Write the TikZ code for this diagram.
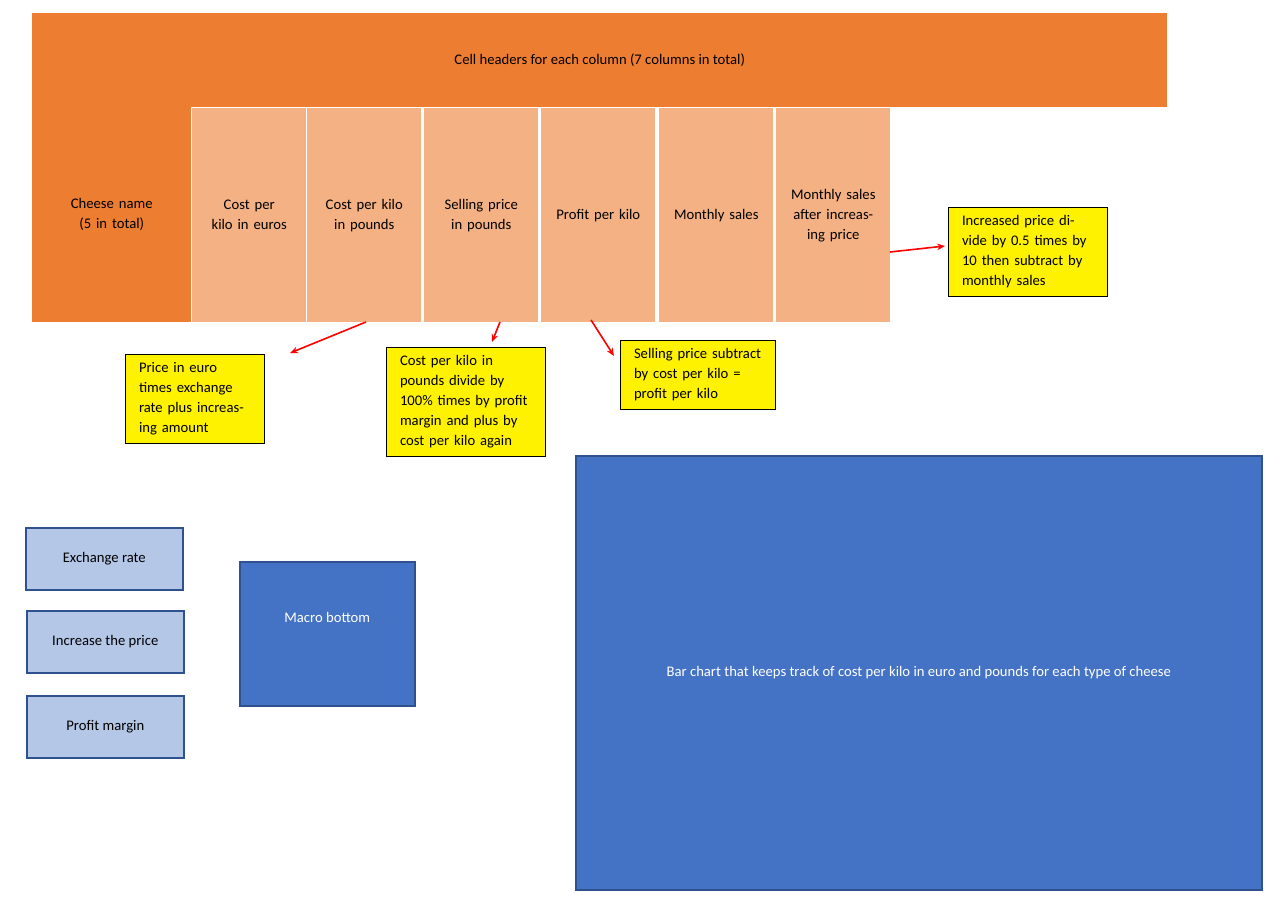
\documentclass[tikz,border=0pt]{standalone}
\usepackage{fontspec}
\setmainfont{Carlito}
\usetikzlibrary{arrows.meta}
\definecolor{org}{HTML}{ED7D31}
\definecolor{lorg}{HTML}{F4B183}
\definecolor{lblue}{HTML}{B4C7E7}
\definecolor{dblue}{HTML}{4472C4}
\definecolor{bord}{HTML}{2F528F}
\begin{document}
\begin{tikzpicture}[x=0.75pt,y=-0.75pt,
  box/.style={anchor=north west,inner sep=0pt,font=\fontsize{11pt}{15pt}\selectfont},
  orng/.style={box,fill=org,align=center},
  col/.style={box,fill=lorg,align=center,minimum width=114\pgflinewidth,minimum height=214\pgflinewidth,text width=80*0.75pt},
  yel/.style={box,fill=yellow,draw=black,line width=1pt,align=left,text width=#1,inner xsep=10pt,inner ysep=6pt},
  lb/.style={box,fill=lblue,draw=bord,line width=1.2pt,minimum width=157*0.75pt,minimum height=62*0.75pt,align=center},
  db/.style={box,fill=dblue,draw=bord,line width=1.2pt,text=white,align=center},
  arr/.style={red,line width=1.2pt,-{Stealth[length=6pt,width=5pt]}}]
\useasboundingbox (0,0) rectangle (1280,905);
\node[orng,minimum width=1135*0.75pt,minimum height=94*0.75pt] (top) at (32,13) {Cell headers for each column (7 columns in total)};
\node[orng,minimum width=159*0.75pt,minimum height=215*0.75pt,text width=130*0.75pt] (cheese) at (32,107) {Cheese name (5 in total)};
\foreach \n/\x/\t in {c1/192/{Cost per kilo in euros},c2/307/{Cost per kilo in pounds},c3/424/{Selling price in pounds},c4/541/{Profit per kilo},c5/659/{Monthly sales},c6/776/{Monthly sales after increasing price}}
  \node[box,fill=lorg,align=center,minimum width=114*0.75pt,minimum height=214*0.75pt,text width=90*0.75pt] (\n) at (\x,108) {\t};
\node[yel=139*0.75pt-20pt] (ya) at (125,354) {Price in euro times exchange rate plus increasing amount};
\node[yel=159*0.75pt-20pt] (yb) at (386,347) {Cost per kilo in pounds divide by 100\% times by profit margin and plus by cost per kilo again};
\node[yel=155*0.75pt-20pt] (yc) at (620,340) {Selling price subtract by cost per kilo = profit per kilo};
\node[yel=159*0.75pt-20pt] (yd) at (948,207) {Increased price divide by 0.5 times by 10 then subtract by monthly sales};
\coordinate (a1) at (366,322); \coordinate (a2) at (290,353);
\coordinate (b1) at (500,322); \coordinate (b2) at (492,342);
\coordinate (d1) at (591,320); \coordinate (d2) at (614,356);
\coordinate (e1) at (890,252); \coordinate (e2) at (945,246);
\draw[arr] (a1) -- (a2);
\draw[arr] (b1) -- (b2);
\draw[arr] (d1) -- (d2);
\draw[arr] (e1) -- (e2);
\node[lb] (ex) at (25,527) {Exchange rate};
\node[lb] (inc) at (26,610) {Increase the price};
\node[lb] (pm) at (26,695) {Profit margin};
\node[db,minimum width=175*0.75pt,minimum height=144*0.75pt] (mac) at (239,561) {Macro bottom\\[10pt]};
\node[db,minimum width=686*0.75pt,minimum height=434*0.75pt] (bar) at (575,455) {Bar chart that keeps track of cost per kilo in euro and pounds for each type of cheese};
\end{tikzpicture}
\end{document}
